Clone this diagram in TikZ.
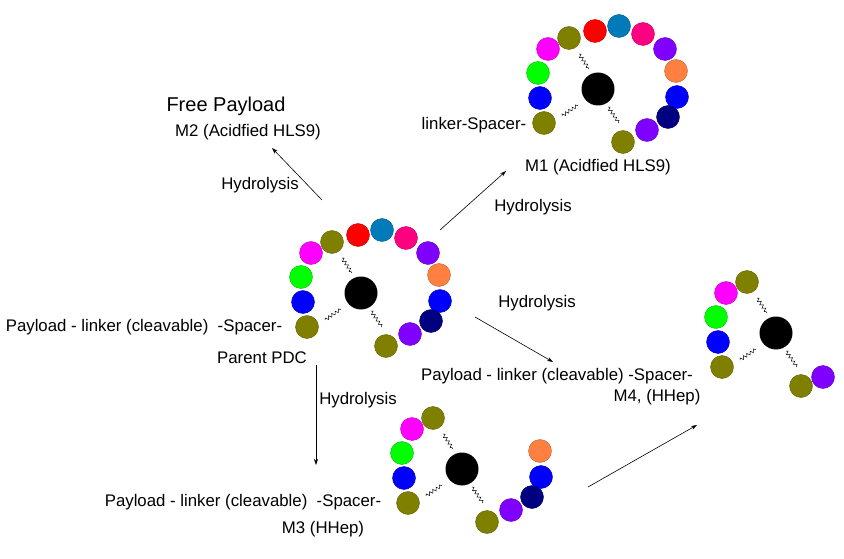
\documentclass[tikz,border=0pt]{standalone}
\usepackage{fontspec}
\setmainfont{Liberation Sans}
\usetikzlibrary{decorations.pathmorphing,arrows.meta}
\definecolor{olv}{RGB}{128,128,0}
\definecolor{tealb}{RGB}{0,122,185}
\definecolor{pnk}{RGB}{255,0,128}
\definecolor{vio}{RGB}{128,0,255}
\definecolor{org}{RGB}{255,128,64}
\definecolor{nvy}{RGB}{0,0,128}
\definecolor{mag}{RGB}{255,0,255}
\definecolor{grn}{RGB}{0,255,0}
\definecolor{blu}{RGB}{0,0,255}
\tikzset{
 bead/.style={circle,minimum size=23pt,inner sep=0pt,draw=#1!75!black,fill=#1},
 core/.style={circle,minimum size=33pt,inner sep=0pt,fill=black},
 wav/.style={decorate,decoration={snake,amplitude=1.6pt,segment length=4pt},line width=0.5pt},
 arr/.style={-{Stealth[length=6pt,width=4pt]},line width=0.6pt},
 lab/.style={font=\fontsize{16.8}{18}\selectfont,inner sep=0pt}
}
\newcommand{\mybeads}[2]{% prefix, list of name/x/y/color
 \foreach \n/\x/\y/\c in {#2} {\node[bead=\c] (#1\n) at (\x,\y) {};}}
\newcommand{\mycore}[1]{%
 \node[core] (#1k) at (361,293) {};
 \coordinate (#1a1) at (342,258); \coordinate (#1a2) at (352,273);
 \coordinate (#1b1) at (325,320); \coordinate (#1b2) at (341,309);
 \coordinate (#1c1) at (371,311); \coordinate (#1c2) at (382,327);
 \draw[wav] (#1a1) -- (#1a2); \draw[wav] (#1b1) -- (#1b2); \draw[wav] (#1c1) -- (#1c2);}
\def\allL{o1/332/242/olv, r/358/235/red, t/382/230/tealb, p/406/238/pnk, v1/428/253/vio, or/439/275/org, b2/440/301/blu, nv/431/321/nvy, v2/410/334/vio, ob/386/346/olv, m/311/253/mag, g/301/277/grn, b1/303/302/blu, ol/307/327/olv}
\begin{document}
\begin{tikzpicture}[x=1pt,y=-1pt]
\useasboundingbox (0,0) rectangle (844,559);
% parent
\begin{scope}
\expandafter\mybeads\expandafter{\expandafter p\expandafter}\expandafter{\allL}
\mycore{p}
\end{scope}
% M1
\begin{scope}[shift={(237,-204)}]
\expandafter\mybeads\expandafter{\expandafter q\expandafter}\expandafter{\allL}
\mycore{q}
\end{scope}
% M4
\begin{scope}[shift={(415,40)}]
\mybeads{s}{o1/332/242/olv, m/311/253/mag, g/301/277/grn, b1/303/302/blu, ol/307/327/olv, ob/386/346/olv, v2/408/337/vio}
\mycore{s}
\end{scope}
% M3
\begin{scope}[shift={(101,176)}]
\mybeads{u}{o1/332/242/olv, m/311/253/mag, g/301/277/grn, b1/303/302/blu, ol/307/327/olv, or/439/275/org, b2/440/301/blu, nv/431/321/nvy, v2/410/334/vio, ob/386/346/olv}
\mycore{u}
\end{scope}
% texts
\node[lab,font=\fontsize{20}{22}\selectfont] (fp) at (226,106) {Free Payload};
\node[lab] (m2) at (248,132) {M2 (Acidfied HLS9)};
\node[lab] (h1) at (260,185) {Hydrolysis};
\node[lab] (ls) at (474,125) {linker-Spacer-};
\node[lab] (m1) at (598,167) {M1 (Acidfied HLS9)};
\node[lab] (h2) at (533,207) {Hydrolysis};
\node[lab] (h3) at (537,303) {Hydrolysis};
\node[lab] (pp) at (144,327) {Payload - linker (cleavable)\ \ -Spacer-};
\node[lab] (pdc) at (262,358) {Parent PDC};
\node[lab] (p4) at (557,376) {Payload - linker (cleavable) -Spacer-};
\node[lab] (m4) at (657,397) {M4, (HHep)};
\node[lab] (h4) at (358,400) {Hydrolysis};
\node[lab] (p3) at (243,502) {Payload - linker (cleavable)\ \ -Spacer-};
\node[lab] (m3) at (323,529) {M3 (HHep)};
% arrows
\coordinate (a1s) at (322,200); \coordinate (a1e) at (272,148);
\coordinate (a2s) at (440,230); \coordinate (a2e) at (506,171);
\coordinate (a3s) at (475,317); \coordinate (a3e) at (553,362);
\coordinate (a4s) at (316,365); \coordinate (a4e) at (316,465);
\coordinate (a5s) at (588,487); \coordinate (a5e) at (697,425);
\draw[arr] (a1s) -- (a1e);
\draw[arr] (a2s) -- (a2e);
\draw[arr] (a3s) -- (a3e);
\draw[arr] (a4s) -- (a4e);
\draw[arr] (a5s) -- (a5e);
\end{tikzpicture}
\end{document}
